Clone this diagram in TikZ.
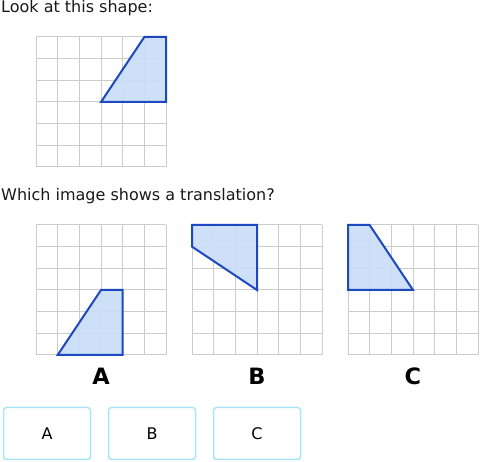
\documentclass[tikz,border=0pt]{standalone}
\usepackage{fontspec}
\setmainfont{DejaVu Sans}
\definecolor{gridc}{RGB}{204,204,204}
\definecolor{shapefill}{RGB}{200,221,246}
\definecolor{shapeline}{RGB}{28,72,192}
\definecolor{btnline}{RGB}{170,228,248}
\begin{document}
\begin{tikzpicture}[x=1pt,y=-1pt,
  gridlines/.style={draw=gridc,line width=1pt},
  shp/.style={fill=shapefill,fill opacity=0.9,draw=shapeline,line width=2pt,line join=miter},
  qtext/.style={anchor=west,inner sep=0pt,font=\fontsize{16}{18}\selectfont,text=black!90},
  lbl/.style={inner sep=0pt,font=\fontsize{22.5}{24}\selectfont\bfseries},
  btn/.style={draw=btnline,line width=1.5pt,rounded corners=3pt,minimum width=87pt,minimum height=52pt,font=\fontsize{16}{18}\selectfont,inner sep=0pt}]
\useasboundingbox (0,0) rectangle (480,462);
\def\cs{21.6667}
% top grid
\begin{scope}[shift={(36,37)}]
  \foreach \i in {0,...,6} {
    \draw[gridlines] (\i*\cs,0) -- (\i*\cs,130);
    \draw[gridlines] (0,\i*\cs) -- (130,\i*\cs);
  }
  \draw[shp] (3*\cs,3*\cs) -- (5*\cs,0) -- (6*\cs,0) -- (6*\cs,3*\cs) -- cycle;
\end{scope}
% grid A
\begin{scope}[shift={(36,225)}]
  \foreach \i in {0,...,6} {
    \draw[gridlines] (\i*\cs,0) -- (\i*\cs,130);
    \draw[gridlines] (0,\i*\cs) -- (130,\i*\cs);
  }
  \draw[shp] (1*\cs,6*\cs) -- (3*\cs,3*\cs) -- (4*\cs,3*\cs) -- (4*\cs,6*\cs) -- cycle;
\end{scope}
% grid B
\begin{scope}[shift={(192,225)}]
  \foreach \i in {0,...,6} {
    \draw[gridlines] (\i*\cs,0) -- (\i*\cs,130);
    \draw[gridlines] (0,\i*\cs) -- (130,\i*\cs);
  }
  \draw[shp] (0,0) -- (3*\cs,0) -- (3*\cs,3*\cs) -- (0,1*\cs) -- cycle;
\end{scope}
% grid C
\begin{scope}[shift={(348,225)}]
  \foreach \i in {0,...,6} {
    \draw[gridlines] (\i*\cs,0) -- (\i*\cs,130);
    \draw[gridlines] (0,\i*\cs) -- (130,\i*\cs);
  }
  \draw[shp] (0,0) -- (1*\cs,0) -- (3*\cs,3*\cs) -- (0,3*\cs) -- cycle;
\end{scope}
\node[qtext] (q1) at (1,8) {Look at this shape:};
\node[qtext] (q2) at (1,196) {Which image shows a translation?};
\node[lbl] (la) at (101,376) {A};
\node[lbl] (lb) at (257,376) {B};
\node[lbl] (lc) at (413,376) {C};
\node[btn] (ba) at (47,433.5) {A};
\node[btn] (bb) at (152,433.5) {B};
\node[btn] (bc) at (257,433.5) {C};
\end{tikzpicture}
\end{document}
